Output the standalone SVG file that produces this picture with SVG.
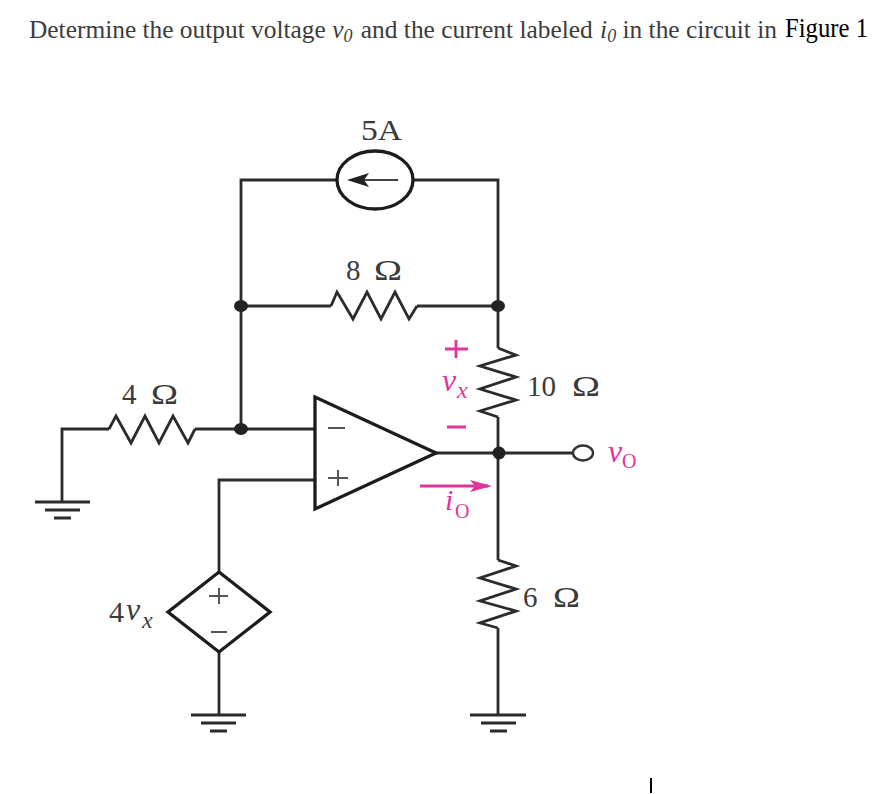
<svg xmlns="http://www.w3.org/2000/svg" width="888" height="794" viewBox="0 0 888 794">
<defs>
<style>
.w{fill:none;stroke:#2b2b2b;stroke-width:2.8;stroke-linejoin:miter}
.s{fill:none;stroke:#1c1c1c;stroke-width:3.3}
.t{font-family:"Liberation Serif","Times New Roman",serif;fill:#3a3a3a;font-size:29px}
.p{font-family:"Liberation Serif","Times New Roman",serif;fill:#e0359a}
.pm{fill:none;stroke:#e0359a;stroke-width:2.8}
.g{fill:none;stroke:#2b2b2b;stroke-width:3}
.d{fill:#222}
.sign{fill:none;stroke:#555;stroke-width:2}
.h{font-family:"Liberation Serif","Times New Roman",serif;font-size:25.400px;fill:#3c3c3c}
</style>
</defs>
<rect width="888" height="794" fill="#fff"/>
<g id="title">
<text class="h" y="38"><tspan x="29">Determine the output voltage </tspan><tspan font-style="italic">v</tspan><tspan font-style="italic" font-size="18" dy="4">0</tspan><tspan dy="-4" dx="2"> and the current labeled </tspan><tspan font-style="italic" dx="1">i</tspan><tspan font-style="italic" font-size="18" dy="4">0</tspan><tspan dy="-4"> in the circuit in </tspan></text>
<text class="h" x="785" y="37" style="fill:#000;font-size:27px" textLength="83" lengthAdjust="spacingAndGlyphs">Figure 1</text>
</g>
<g id="connectors">
<path class="w" d="M337 180H241V429"/>
<path class="w" d="M413 180H498V348"/>
<path class="w" d="M241 306H331"/>
<path class="w" d="M417 306H498"/>
<path class="w" d="M195 429H315"/>
<path class="w" d="M109 429H62V502"/>
<path class="w" d="M315 480H219V572"/>
<path class="w" d="M219 652V715"/>
<path class="w" d="M436 453H573"/>
<path class="w" d="M498 417V560"/>
<path class="w" d="M498 628V715"/>
</g>
<g id="source-5a">
<ellipse class="s" cx="375" cy="180" rx="38" ry="29" fill="#fff"/>
<path d="M398 180H355" stroke="#444" stroke-width="2" fill="none"/>
<path d="M347 180L369 173L364 180L369 187Z" fill="#222"/>
<text class="t" x="361" y="140" textLength="41" lengthAdjust="spacingAndGlyphs">5A</text>
</g>
<g id="r-8">
<path class="w" d="M331 306L337 292L353 319L367 292L381 319L395 292L409 319L417 306"/>
<text class="t" x="346" y="280">8</text>
<text class="t" x="374" y="280" textLength="28" lengthAdjust="spacingAndGlyphs">Ω</text>
</g>
<g id="r-4">
<path class="w" d="M109 429L116 416L131 443L145 416L159 443L173 416L188 443L195 429"/>
<text class="t" x="122" y="404">4</text>
<text class="t" x="151" y="404" textLength="27" lengthAdjust="spacingAndGlyphs">Ω</text>
</g>
<g id="r-10">
<path class="w" d="M498 348L516 355L480 366L516 377L480 389L516 400L480 411L498 417"/>
<text class="t" x="527" y="396">10</text>
<text class="t" x="572" y="396" textLength="28" lengthAdjust="spacingAndGlyphs">Ω</text>
</g>
<g id="r-6">
<path class="w" d="M498 560L516 566L480 578L516 589L480 601L516 611L480 623L498 628"/>
<text class="t" x="523" y="607">6</text>
<text class="t" x="553" y="607" textLength="27" lengthAdjust="spacingAndGlyphs">Ω</text>
</g>
<g id="opamp">
<path class="s" d="M315 397V509L436 453Z" fill="#fff"/>
<path class="sign" d="M328 428H345M328 478H348M338 470V486"/>
</g>
<g id="dependent-source">
<path class="s" d="M219 572L270 612L219 652L168 612Z" fill="#fff"/>
<path class="sign" d="M209 596H228M219 588V604M211 632H227"/>
<text class="t" x="109" y="622" style="font-size:30px">4</text>
<text class="t" x="126" y="620" style="font-size:32px;font-style:italic">v</text>
<text class="t" x="142" y="628" style="font-size:24px;font-style:italic">x</text>
</g>
<g id="gnd-left"><path class="g" d="M35 502H90M45 510H80M54 518H71"/></g>
<g id="gnd-mid"><path class="g" d="M191 715H246M201 723H236M210 731H227"/></g>
<g id="gnd-right"><path class="g" d="M470 715H526M481 723H516M490 731H507"/></g>
<g id="junctions">
<ellipse class="d" cx="241" cy="306" rx="7" ry="6"/>
<ellipse class="d" cx="498" cy="306" rx="7" ry="6"/>
<ellipse class="d" cx="241" cy="429" rx="7" ry="6"/>
<ellipse class="d" cx="499" cy="453" rx="6.500" ry="6.500"/>
</g>
<g id="output-terminal">
<ellipse cx="583" cy="453" rx="10" ry="7.500" fill="#fff" stroke="#333" stroke-width="2.400"/>
<text class="p" x="608" y="462" font-size="32" font-style="italic">v</text>
<text class="p" x="622" y="468" font-size="20">O</text>
</g>
<g id="vx-label">
<path class="pm" d="M445 349H468M456 340V358M447 427H466"/>
<text class="p" x="442" y="391" font-size="32" font-style="italic">v</text>
<text class="p" x="457" y="398" font-size="24" font-style="italic">x</text>
</g>
<g id="io-label">
<path class="pm" d="M420 486H488"/>
<path d="M470 480L492 486L470 492L475 486Z" fill="#e0359a"/>
<text class="p" x="445" y="510" font-size="30" font-style="italic">i</text>
<text class="p" x="455" y="518" font-size="20">O</text>
</g>
<g id="cursor"><path d="M651 778V793" stroke="#000" stroke-width="2" fill="none"/></g>
</svg>
